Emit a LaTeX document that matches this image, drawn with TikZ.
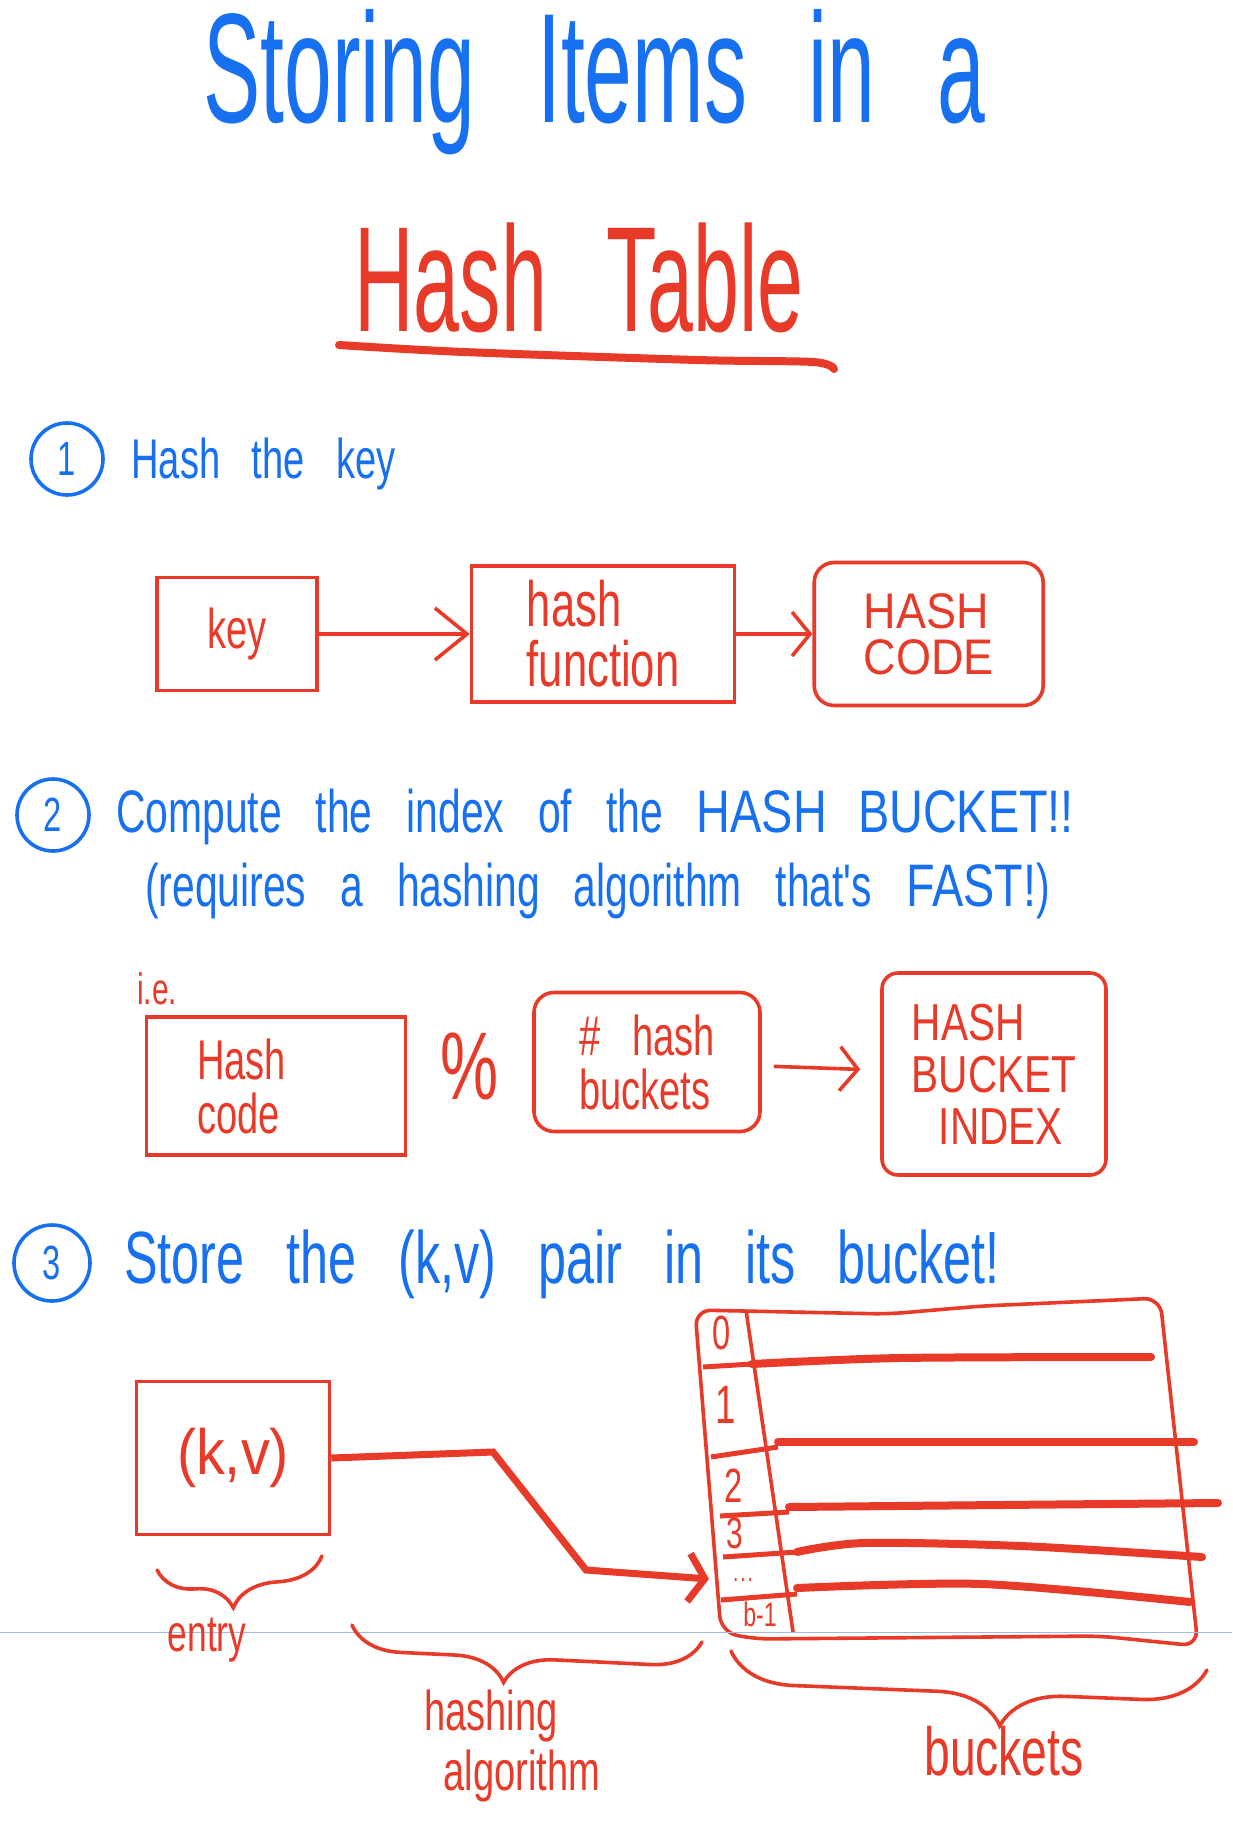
\documentclass[tikz,border=0pt]{standalone}
\usepackage{fontspec}
\newfontfamily\hand{Liberation Sans}[FakeStretch=0.68,WordSpace=3]
\newfontfamily\handt{Liberation Sans}[FakeStretch=0.55,WordSpace=2.6]
\newfontfamily\handn{Liberation Sans}[FakeStretch=0.78,WordSpace=2.4]
\newfontfamily\handw{Liberation Sans}[FakeStretch=0.9,WordSpace=2]
\usetikzlibrary{arrows.meta,positioning,decorations.pathreplacing}
\definecolor{inkblue}{RGB}{22,112,240}
\definecolor{inkred}{RGB}{232,58,40}
\definecolor{pageline}{RGB}{160,185,230}
\newcommand{\inksize}[1]{\fontsize{#1}{#1}\selectfont}
\newcommand{\threedots}{.\kern1pt.\kern1pt.}

\begin{document}
\begin{tikzpicture}[x=0.5pt,y=-0.5pt,>={Straight Barb[length=9pt,width=22pt]},
  box/.style={draw=inkred,line width=1.8pt,inner sep=0pt,text=inkred,align=left},
  bluetext/.style={text=inkblue,anchor=base west,inner sep=0pt},
  redtext/.style={text=inkred,inner sep=0pt,align=left},
  numcirc/.style={circle,draw=inkblue,line width=1.8pt,text=inkblue,inner sep=0pt,minimum size=36pt,font=\hand\inksize{24}},
  arr/.style={->,draw=inkred,line width=1.8pt},
  heavy/.style={draw=inkred,line width=4pt,line cap=round},
  handbrace/.style={draw=inkred,line width=1.8pt,line cap=round,decorate}]

\fill[white] (0,0) rectangle (1232,1821);
\useasboundingbox (0,0) rectangle (1232,1821);

% title
\node[bluetext,font=\handt\inksize{78}] (title) at (203,122) {Storing Items in a};
\node[bluetext,text=inkred,font=\handt\inksize{75}] (subtitle) at (354,331) {Hash Table};
\draw[heavy] plot[smooth] coordinates {(339,345) (464,352) (697,360) (813,362) (834,369)};

% step 1
\node[numcirc] (one) at (67,459) {1};
\node[bluetext,font=\hand\inksize{28}] (stepone) at (131,478) {Hash the key};

\node[box,minimum width=80pt,minimum height=56.5pt,font=\hand\inksize{28}] (key) at (237,634) {key};
\node[box,minimum width=131.5pt,minimum height=68pt,right=75.5pt of key,font=\hand\fontsize{32}{30}\selectfont] (hashfn) {hash\\function};
\node[box,minimum width=114.5pt,minimum height=71.5pt,right=38pt of hashfn,rounded corners=10pt,font=\handw\fontsize{25}{23}\selectfont] (code) {HASH\\CODE};
\draw[arr,>={Straight Barb[length=16pt,width=26pt]}] (key) -- (hashfn);
\draw[arr] (hashfn) -- (code);

% step 2
\node[numcirc] (two) at (53,815) {2};
\node[bluetext,font=\hand\inksize{30}] (steptwo) at (116,832) {Compute the index of the {\handn HASH BUCKET!!}};
\node[bluetext,font=\hand\inksize{30}] (steptwob) at (145,906) {(requires a hashing algorithm that's {\handn FAST!})};

\node[redtext,font=\hand\inksize{22}] (ie) at (157,989) {i.e.};
\node[box,minimum width=129.5pt,minimum height=69pt,text width=79pt,font=\hand\fontsize{28}{27}\selectfont] (hashcode) at (276,1086) {Hash\\code};
\node[redtext,font=\hand\inksize{48}] (mod) at (470,1066) {\%};
\node[box,minimum width=113pt,minimum height=69.5pt,rounded corners=10pt,font=\hand\fontsize{28}{27}\selectfont] (nbuckets) at (647,1062) {\# hash\\buckets};
\node[box,minimum width=112pt,minimum height=101pt,rounded corners=8pt,font=\handn\fontsize{26}{26}\selectfont] (bindex) at (994,1074) {HASH\\BUCKET\\\ INDEX};
\draw[arr,shorten <=6pt,shorten >=10pt] (nbuckets) -- (bindex);

% step 3
\node[numcirc,minimum size=38pt] (three) at (52,1263) {3};
\node[bluetext,font=\hand\inksize{37}] (stepthree) at (124,1283) {Store the (k,v) pair in its bucket!};

\node[box,minimum width=96.5pt,minimum height=76.5pt,font=\handw\inksize{32}] (entry) at (233,1458) {(k,v)};

% buckets table
\draw[draw=inkred,line width=1.8pt,rounded corners=8pt] (695,1310) -- (888,1314) -- (982,1306) -- (1160,1298) -- (1198,1646) -- (1100,1636) -- (754,1639) -- (721,1632) -- cycle;
\draw[draw=inkred,line width=1.8pt] (746,1310) -- (793,1632);
\draw[draw=inkred,line width=2.5pt] (703,1367) -- (752,1364);
\draw[draw=inkred,line width=2.5pt] (711,1457) -- (778,1447);
\draw[draw=inkred,line width=2.5pt] (720,1516) -- (789,1512);
\draw[draw=inkred,line width=2.5pt] (723,1557) -- (797,1552);
\draw[draw=inkred,line width=2.5pt] (721,1600) -- (797,1594);
\draw[heavy] plot[smooth] coordinates {(752,1364) (900,1358) (1151,1357)};
\draw[heavy] (778,1442) -- (1194,1442);
\draw[heavy] plot[smooth] coordinates {(789,1507) (1000,1505) (1218,1503)};
\draw[heavy] plot[smooth] coordinates {(797,1552) (864,1543) (1021,1546) (1202,1557)};
\draw[heavy] plot[smooth] coordinates {(797,1588) (982,1584) (1190,1602)};
\foreach \lab/\px/\py/\sz in {0/722/1333/24,1/726/1405/27,2/734/1486/24,3/735/1533/22,\threedots/743/1580/14,b-1/760/1614/17}
  \node[redtext,font=\hand\inksize{\sz}] at (\px,\py) {\lab};

\coordinate (slot) at (709,1579);
\draw[arr,line width=3.5pt,>={Straight Barb[length=8pt,width=24pt]}] (entry.east) -- (493,1452) -- (586,1570) -- (slot);

% page line
\draw[pageline,line width=0.5pt] (0,1632) -- (1232,1632);

% braces
\draw[handbrace,decoration={brace,mirror,amplitude=22pt,aspect=0.44}] (157,1570) -- (322,1556);
\draw[handbrace,decoration={brace,mirror,amplitude=25pt,aspect=0.44}] (352,1625) -- (702,1642);
\draw[handbrace,decoration={brace,mirror,amplitude=32pt,aspect=0.57}] (731,1651) -- (1207,1670);
\node[redtext,font=\hand\inksize{26}] (entrylab) at (207,1640) {entry};
\node[redtext,font=\hand\inksize{28}] (hashlab) at (491,1716) {hashing};
\node[redtext,font=\hand\inksize{28}] (alglab) at (522,1776) {algorithm};
\node[redtext,font=\hand\inksize{34}] (bucketlab) at (1004,1751) {buckets};
\end{tikzpicture}
\end{document}
